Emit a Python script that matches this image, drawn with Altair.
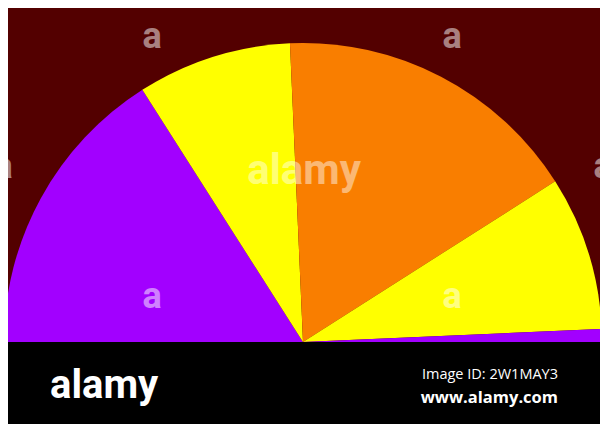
import math
import altair as alt
import pandas as pd

# ---- data (half-pie, left -> right) ----
slices = ["Purple (left)", "Yellow (upper)", "Orange", "Yellow (right)", "Purple (right)"]
values = [23, 12, 24, 12, 1]
colors = ["#A200FF", "#FFFF00", "#F97E00", "#FFFF00", "#A200FF"]

df = pd.DataFrame({"slice": slices, "value": values, "order": list(range(len(slices)))})
total = sum(values)

BG = "#530000"
one = alt.Data(values=[{}])

W, H = 592, 416  # fits inside the 608x432 window with its 8px body margin

# bottom black band
band = alt.Chart(one).mark_rect(color="#000000").encode(
    x=alt.value(0), x2=alt.value(W), y=alt.value(334), y2=alt.value(H)
)

arc = alt.Chart(df).mark_arc(outerRadius=299).encode(
    theta=alt.Theta("value:Q", stack=True,
                    scale=alt.Scale(domain=[0, total], range=[-math.pi / 2, math.pi / 2])),
    color=alt.Color("slice:N", scale=alt.Scale(domain=slices, range=colors), legend=None),
    order=alt.Order("order:Q"),
    x=alt.value(295),
    y=alt.value(334),
)

WM_FONT = "Roboto"

layers = [band, arc]

# small watermark letters
for (px, py) in [(144, 40), (444, 40), (-5, 170), (595, 170), (144, 300), (444, 300)]:
    layers.append(
        alt.Chart(one).mark_text(text="a", font=WM_FONT, fontWeight="bold", fontSize=36,
                                 color="white", opacity=0.5, align="center",
                                 baseline="alphabetic")
        .encode(x=alt.value(px), y=alt.value(py))
    )

# central watermark
layers.append(
    alt.Chart(one).mark_text(text="alamy", font=WM_FONT, fontWeight="bold", fontSize=42,
                             color="white", opacity=0.45, align="center",
                             baseline="alphabetic")
    .encode(x=alt.value(296), y=alt.value(176))
)

# footer
layers.append(
    alt.Chart(one).mark_text(text="alamy", font=WM_FONT, fontWeight="bold", fontSize=40,
                             color="white", align="left", baseline="alphabetic")
    .encode(x=alt.value(42), y=alt.value(390))
)
layers.append(
    alt.Chart(one).mark_text(text="Image ID: 2W1MAY3", font="Open Sans", fontSize=14.5,
                             color="white", align="right", baseline="middle")
    .encode(x=alt.value(550), y=alt.value(367))
)
layers.append(
    alt.Chart(one).mark_text(text="www.alamy.com", font="Open Sans", fontWeight="bold",
                             fontSize=16.5, color="white", align="right", baseline="middle")
    .encode(x=alt.value(550), y=alt.value(390))
)

chart = alt.layer(*layers).properties(
    width=W, height=H,
    autosize=alt.AutoSizeParams(type="none"),
    padding=0,
    background=BG,
).configure_view(stroke=None)

chart.save("out.html", embed_options={"renderer": "svg", "actions": False})
